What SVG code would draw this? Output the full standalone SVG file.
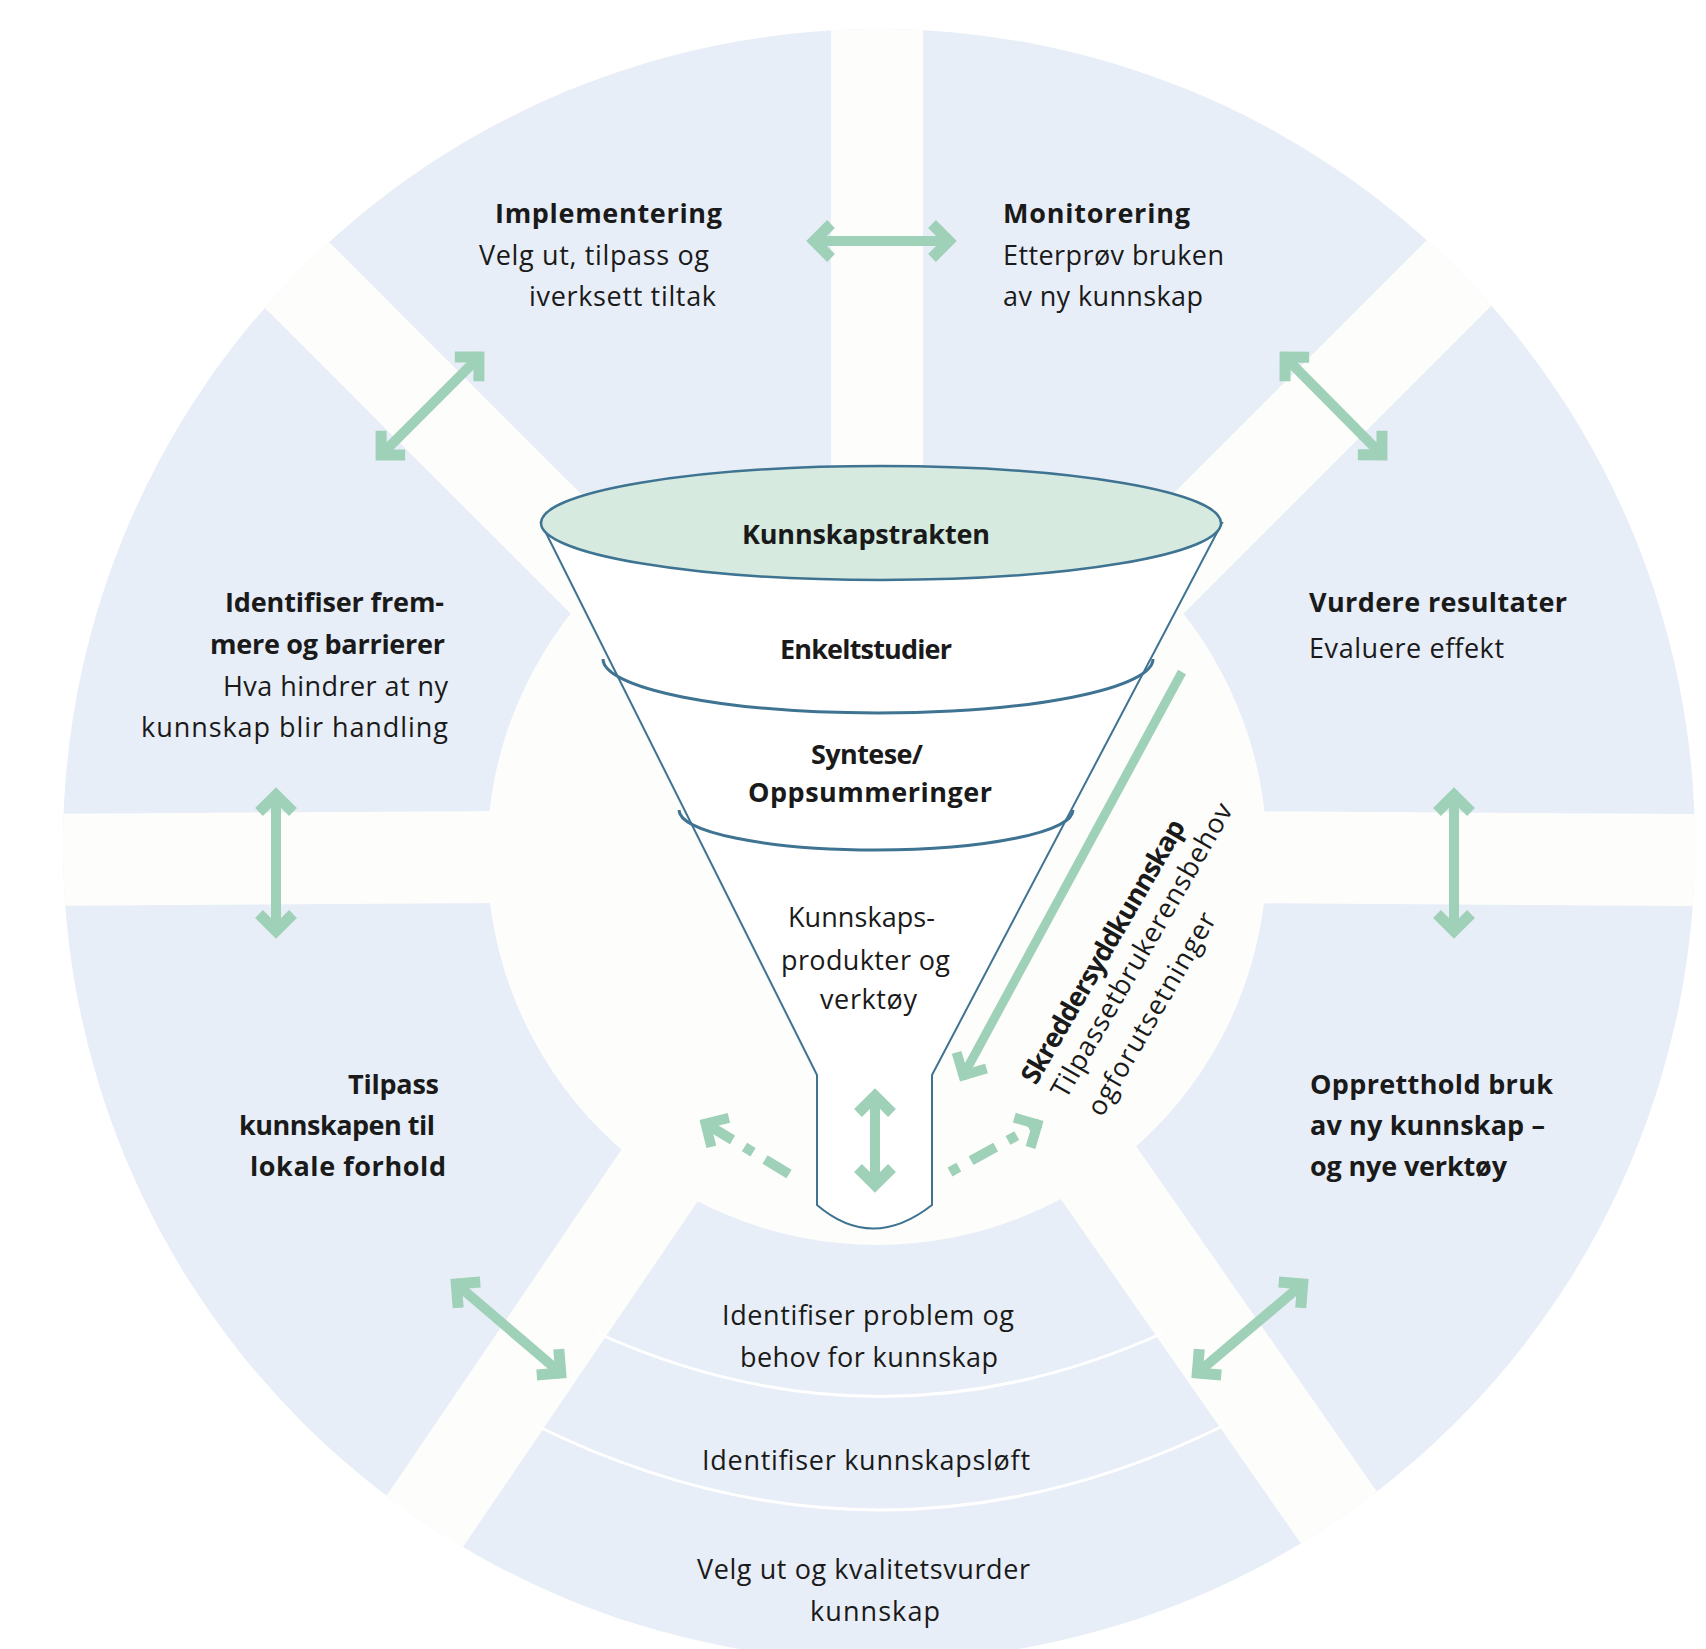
<svg xmlns="http://www.w3.org/2000/svg" width="1706" height="1649" viewBox="0 0 1706 1649">
<defs>
<style>
.t{font-family:"Open Sans","Liberation Sans",sans-serif;font-size:27px;fill:#1a1a1a}
.b{font-weight:bold}
.fun{fill:#ffffff;stroke:#3f7392;stroke-width:2}
.band{fill:none;stroke:#3f7392;stroke-width:3}
.arr{stroke:#9fd0b8;stroke-width:10;fill:none;marker-start:url(#ah);marker-end:url(#ah)}
.arc{fill:none;stroke:#ffffff;stroke-width:3}
</style>
<marker id="ah" markerUnits="userSpaceOnUse" viewBox="-40 -30 60 60" markerWidth="60" markerHeight="60" refX="0" refY="0" orient="auto-start-reverse">
<path d="M-20,-17 L-3,0 L-20,17" fill="none" stroke="#9fd0b8" stroke-width="11" stroke-linejoin="miter"/>
</marker>
<marker id="ah1" markerUnits="userSpaceOnUse" viewBox="-40 -30 60 60" markerWidth="60" markerHeight="60" refX="0" refY="0" orient="auto">
<path d="M-20,-17 L-3,0 L-20,17" fill="none" stroke="#9fd0b8" stroke-width="10"/>
</marker>
<clipPath id="disk"><circle cx="879" cy="845" r="816"/></clipPath>
</defs>
<rect width="1706" height="1649" fill="#ffffff"/>
<g id="wheel">
<circle cx="879" cy="845" r="816" fill="#fdfdfb"/>
<path fill="#e8eef7" fill-rule="evenodd" d="M63,845 a816,816 0 1,0 1632,0 a816,816 0 1,0 -1632,0 Z M487,855 a390,390 0 1,0 780,0 a390,390 0 1,0 -780,0 Z"/>
<g clip-path="url(#disk)" stroke="#fdfdfb" stroke-width="92">
<line x1="877" y1="855" x2="877" y2="0"/>
<line x1="877" y1="855" x2="0" y2="860"/>
<line x1="877" y1="855" x2="1706" y2="860"/>
<line x1="877" y1="855" x2="0" y2="-22"/>
<line x1="877" y1="855" x2="1754" y2="-22"/>
<line x1="877" y1="855" x2="290" y2="1720"/>
<line x1="877" y1="855" x2="1480" y2="1720"/>
</g>
<path class="arc" d="M597,1333 Q880,1460 1163,1333"/>
<path class="arc" d="M535,1425 Q880,1595 1225,1425"/>
</g>
<g id="connectors">
<line class="arr" x1="811" y1="241" x2="952" y2="241"/>
<line class="arr" x1="481" y1="355" x2="379" y2="457"/>
<line class="arr" x1="1283" y1="355" x2="1384" y2="457"/>
<line class="arr" x1="276" y1="792" x2="276" y2="934"/>
<line class="arr" x1="1454" y1="792" x2="1454" y2="934"/>
<line class="arr" x1="454" y1="1282" x2="563" y2="1375"/>
<line class="arr" x1="1305" y1="1282" x2="1195" y2="1375"/>
</g>
<g id="funnel">
<path class="fun" d="M541,523 L817,1075 L817,1205 Q872,1252 932,1205 L932,1075 L1222,523 Z"/>
<path class="band" d="M603,659 A275,54 0 0,0 1153,659"/>
<path class="band" d="M679,810 A197,40 0 0,0 1073,810"/>
<ellipse cx="881" cy="523" rx="340" ry="57" fill="#d6eadf" stroke="#3f7392" stroke-width="2.5"/>
<text class="t b" x="742" y="544" textLength="248">Kunnskapstrakten</text>
<text class="t b" x="780" y="659" textLength="172">Enkeltstudier</text>
<text class="t b" x="811" y="764" textLength="112">Syntese/</text>
<text class="t b" x="748" y="802" textLength="244">Oppsummeringer</text>
<text class="t" x="788" y="927" textLength="147">Kunnskaps-</text>
<text class="t" x="781" y="970" textLength="169">produkter og</text>
<text class="t" x="820" y="1009" textLength="97">verktøy</text>
</g>
<g id="funnel-arrows">
<line class="arr" x1="875" y1="1093" x2="875" y2="1188"/>
<line x1="1182" y1="672" x2="962" y2="1078" stroke="#9fd0b8" stroke-width="9" marker-end="url(#ah1)"/>
<line x1="789" y1="1174" x2="703" y2="1122" stroke="#9fd0b8" stroke-width="10" stroke-dasharray="28,14,10,14" marker-end="url(#ah1)"/>
<line x1="950" y1="1172" x2="1040" y2="1123" stroke="#9fd0b8" stroke-width="10" stroke-dasharray="10,14,28,14" marker-end="url(#ah1)"/>
<text class="t b" transform="translate(1036,1086) rotate(-60)" x="0" y="0" textLength="300">Skreddersyddkunnskap</text>
<text class="t" transform="translate(1066,1100) rotate(-60)" x="0" y="0" textLength="335">Tilpassetbrukerensbehov</text>
<text class="t" transform="translate(1102,1118) rotate(-60)" x="0" y="0" textLength="230">ogforutsetninger</text>
</g>
<g id="implementering">
<text class="t b" x="495" y="223" textLength="227">Implementering</text>
<text class="t" x="479" y="265" textLength="230">Velg ut, tilpass og</text>
<text class="t" x="529" y="306" textLength="187">iverksett tiltak</text>
</g>
<g id="monitorering">
<text class="t b" x="1003" y="223" textLength="187">Monitorering</text>
<text class="t" x="1003" y="265" textLength="221">Etterprøv bruken</text>
<text class="t" x="1003" y="306" textLength="200">av ny kunnskap</text>
</g>
<g id="identifiser-fremmere">
<text class="t b" x="225" y="612" textLength="219">Identifiser frem-</text>
<text class="t b" x="210" y="654" textLength="235">mere og barrierer</text>
<text class="t" x="223" y="696" textLength="225">Hva hindrer at ny</text>
<text class="t" x="141" y="737" textLength="307">kunnskap blir handling</text>
</g>
<g id="vurdere">
<text class="t b" x="1309" y="612" textLength="258">Vurdere resultater</text>
<text class="t" x="1309" y="658" textLength="195">Evaluere effekt</text>
</g>
<g id="tilpass">
<text class="t b" x="348" y="1094" textLength="91">Tilpass</text>
<text class="t b" x="239" y="1135" textLength="196">kunnskapen til</text>
<text class="t b" x="250" y="1176" textLength="196">lokale forhold</text>
</g>
<g id="oppretthold">
<text class="t b" x="1310" y="1094" textLength="243">Oppretthold bruk</text>
<text class="t b" x="1310" y="1135" textLength="235">av ny kunnskap –</text>
<text class="t b" x="1310" y="1176" textLength="197">og nye verktøy</text>
</g>
<g id="problem">
<text class="t" x="722" y="1325" textLength="292">Identifiser problem og</text>
<text class="t" x="740" y="1367" textLength="258">behov for kunnskap</text>
</g>
<g id="kunnskapsloft">
<text class="t" x="702" y="1470" textLength="328">Identifiser  kunnskapsløft</text>
</g>
<g id="velg">
<text class="t" x="697" y="1579" textLength="333">Velg ut og kvalitetsvurder</text>
<text class="t" x="810" y="1621" textLength="130">kunnskap</text>
</g>
</svg>
